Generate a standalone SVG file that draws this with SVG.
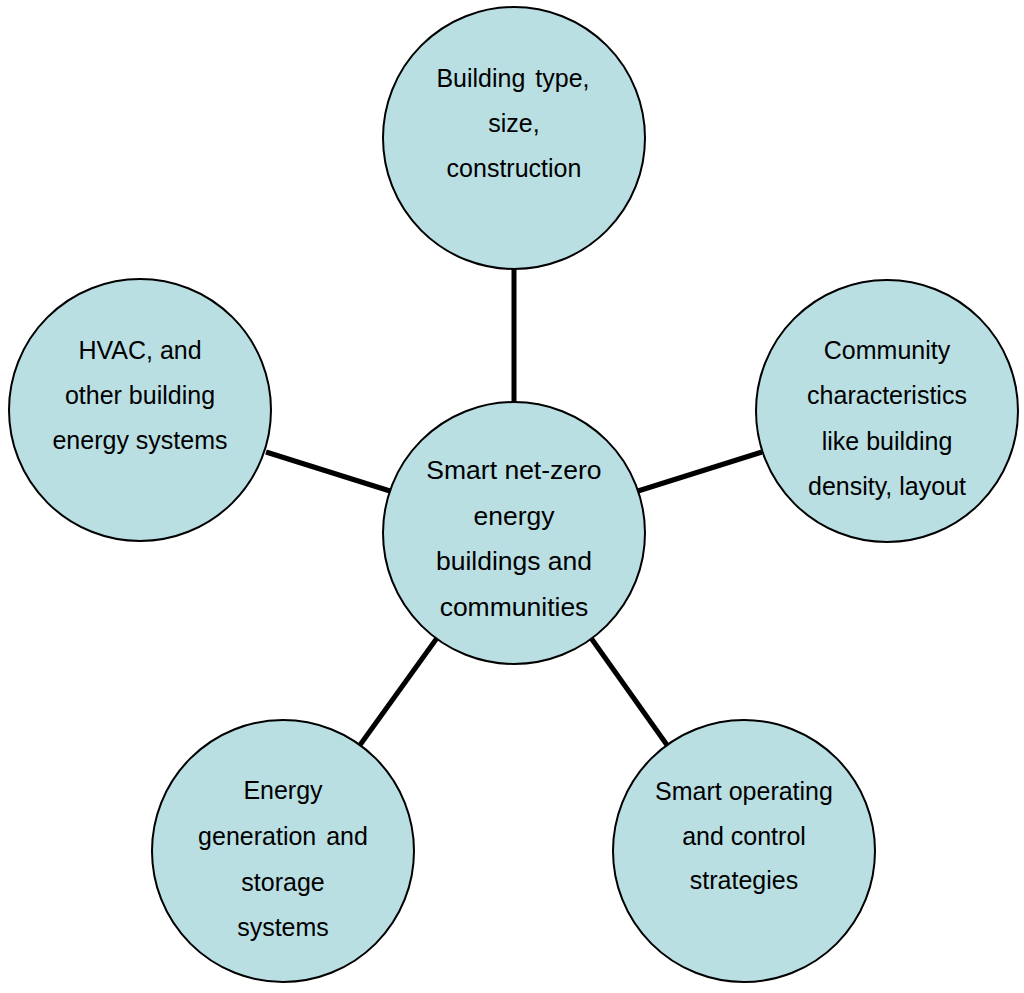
<svg xmlns="http://www.w3.org/2000/svg" width="1024" height="993" viewBox="0 0 1024 993">
<style>
.node circle{fill:#B9DFE3;stroke:#000;stroke-width:2}
.node text{font-family:"Liberation Sans",Arial,sans-serif;font-size:25px;fill:#000;text-anchor:middle}
#center text{font-size:26.5px}
#connectors line{stroke:#000;stroke-width:5}
</style>
<rect width="1024" height="993" fill="#fff"/>
<g id="connectors">
<line x1="514" y1="267" x2="514" y2="403"/>
<line x1="266" y1="452" x2="390" y2="491"/>
<line x1="638" y1="491" x2="762" y2="452"/>
<line x1="437" y1="638" x2="360" y2="745"/>
<line x1="591" y1="638" x2="667" y2="745"/>
</g>
<g id="center" class="node">
<circle cx="514" cy="533" r="131"/>
<text x="514" y="479">Smart net-zero</text>
<text x="514" y="525">energy</text>
<text x="514" y="570">buildings and</text>
<text x="514" y="616">communities</text>
</g>
<g id="top" class="node">
<circle cx="514" cy="138" r="131"/>
<text x="513" y="87" word-spacing="3">Building type,</text>
<text x="514" y="132">size,</text>
<text x="514" y="177">construction</text>
</g>
<g id="left" class="node">
<circle cx="140" cy="410" r="131"/>
<text x="140" y="359">HVAC, and</text>
<text x="140" y="404">other building</text>
<text x="140" y="449">energy systems</text>
</g>
<g id="right" class="node">
<circle cx="887" cy="411" r="131"/>
<text x="887" y="359">Community</text>
<text x="887" y="404">characteristics</text>
<text x="887" y="450">like building</text>
<text x="887" y="495">density, layout</text>
</g>
<g id="bottom-left" class="node">
<circle cx="283" cy="851" r="131"/>
<text x="283" y="799">Energy</text>
<text x="283" y="845" word-spacing="3">generation and</text>
<text x="283" y="891">storage</text>
<text x="283" y="936">systems</text>
</g>
<g id="bottom-right" class="node">
<circle cx="744" cy="851" r="131"/>
<text x="744" y="800">Smart operating</text>
<text x="744" y="845">and control</text>
<text x="744" y="889">strategies</text>
</g>
</svg>
